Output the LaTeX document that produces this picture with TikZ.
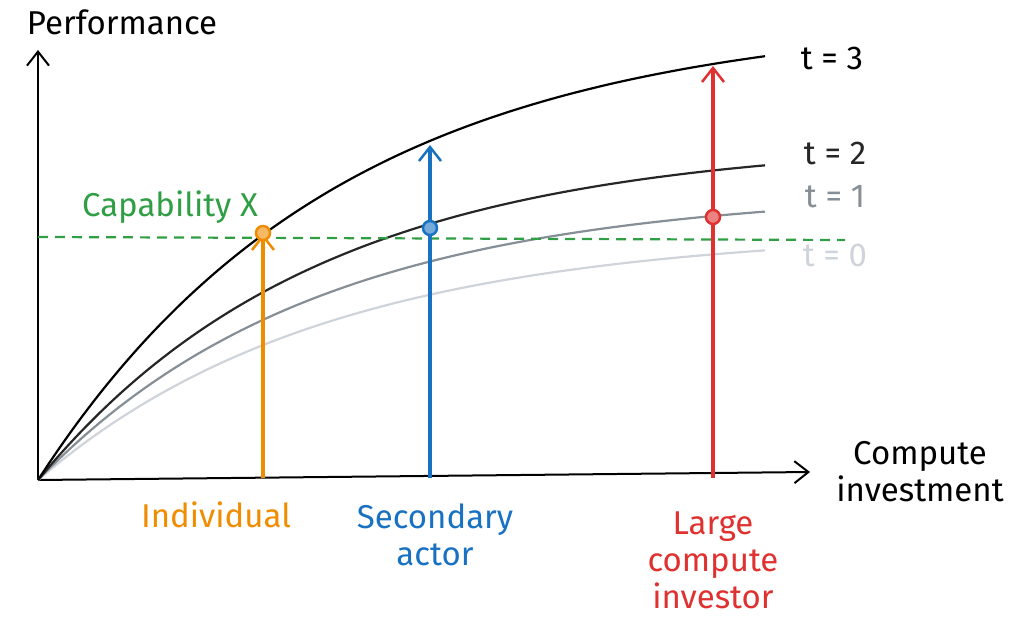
\documentclass[tikz,border=0pt]{standalone}
\usepackage{fontspec}
\setmainfont{Fira Sans}
\usetikzlibrary{arrows.meta}
\definecolor{cor}{HTML}{F08C00}
\definecolor{cbl}{HTML}{1971C2}
\definecolor{crd}{HTML}{E03131}
\definecolor{cgr}{HTML}{2F9E44}
\definecolor{ct1}{HTML}{868E96}
\definecolor{ct0}{HTML}{CED4DA}
\tikzset{
 lbl/.style={font=\fontsize{33}{37}\selectfont, align=center, inner sep=0},
 ax/.style={line width=2pt, -{Straight Barb[length=14pt,width=22pt,line width=2pt]}},
 varr/.style={line width=3.5pt, -{Straight Barb[length=14pt,width=22pt,line width=2.5pt]}},
 dot/.style={circle, minimum size=14pt, inner sep=0, line width=2.5pt},
 curve/.style={line width=2.2pt, smooth}
}
\begin{document}
\begin{tikzpicture}[x=1pt,y=-1pt]
\useasboundingbox (0,0) rectangle (1031,628);
\coordinate (o) at (38,480);
\coordinate (yt) at (38,50);
\coordinate (xt) at (810,472);
\draw[ax] (o) -- (yt);
\draw[ax] (o) -- (xt);
\node[lbl] (perf) at (122,22) {Performance};
\node[lbl] (ci) at (920,472) {Compute\\investment};
% curves
\draw[curve,ct0] plot[domain=0:727,samples=60] ({38+\x},{480-250*(1-exp(-\x/290))});
\draw[curve,ct1] plot[domain=0:727,samples=60] ({38+\x},{480-290*(1-exp(-\x/280))});
\draw[curve,black!85] plot[domain=0:727,samples=60] ({38+\x},{480-340*(1-exp(-\x/280))});
\draw[curve,black] plot[domain=0:727,samples=60] ({38+\x},{480-465*(1-exp(-\x/300))});
\node[lbl,black] (t3) at (832,58) {t = 3};
\node[lbl,black!85] (t2) at (835,153) {t = 2};
\node[lbl,ct1] (t1) at (835,197) {t = 1};
\node[lbl,ct0] (t0) at (835,255) {t = 0};
% capability
\coordinate (c1) at (38,237);
\coordinate (c2) at (845,240);
\draw[cgr,line width=2.2pt,dash pattern=on 10pt off 7pt] (c1) -- (c2);
\node[lbl,cgr] (cap) at (170,207) {Capability X};
% arrows
\coordinate (ob) at (263,478); \coordinate (ot) at (263,234);
\coordinate (bb) at (430,478); \coordinate (bt) at (430,145);
\coordinate (rb) at (713,478); \coordinate (rt) at (713,66);
\draw[varr,cor] (ob) -- (ot);
\draw[varr,cbl] (bb) -- (bt);
\draw[varr,crd] (rb) -- (rt);
\node[dot,draw=cor,fill=cor!60] (d1) at (263,233) {};
\node[dot,draw=cbl,fill=cbl!60] (d2) at (430,228) {};
\node[dot,draw=crd,fill=crd!60] (d3) at (713,217) {};
\node[lbl,cor] (ind) at (216,515) {Individual};
\node[lbl,cbl] (sec) at (435,535) {Secondary\\actor};
\node[lbl,crd] (lar) at (713,560) {Large\\compute\\investor};
\end{tikzpicture}
\end{document}
